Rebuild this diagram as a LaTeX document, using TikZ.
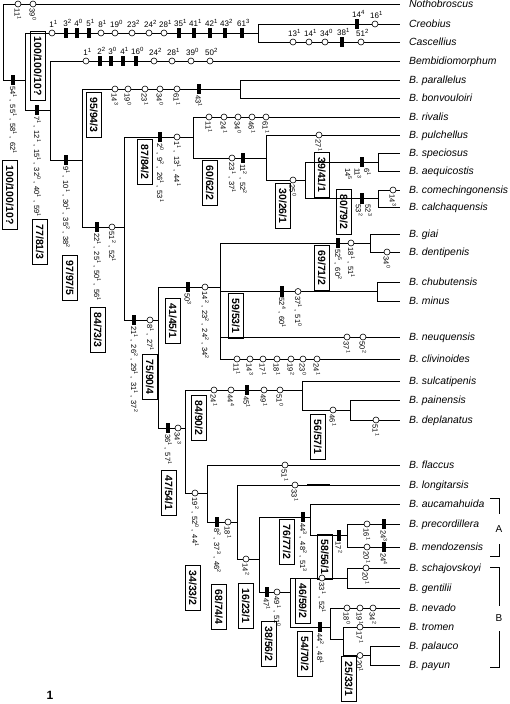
\documentclass[tikz,border=0pt]{standalone}
\usepackage{fontspec}
\setmainfont{Liberation Sans}
\newcounter{mk}
\newcommand\sx[2]{#1\textsuperscript{#2}}
\newcommand\sepc{\hspace{0.22em},\hspace{0.42em}}
\newcommand\oc[3]{\stepcounter{mk}\node[circ] (m\arabic{mk}) at (#1,#2) {};\node[lab] (l\arabic{mk}) at (#1,#2+4.5) {#3};}
\newcommand\bk[3]{\stepcounter{mk}\node[barm] (m\arabic{mk}) at (#1,#2) {};\node[lab] (l\arabic{mk}) at (#1,#2+6) {#3};}
\newcommand\ocu[3]{\stepcounter{mk}\node[circ] (m\arabic{mk}) at (#1,#2) {};\node[labup] (l\arabic{mk}) at (#1+1.5,#2-5.5) {#3};}
\newcommand\bku[3]{\stepcounter{mk}\node[barm] (m\arabic{mk}) at (#1,#2) {};\node[labup] (l\arabic{mk}) at (#1+1.5,#2-6) {#3};}
\newcommand\sbx[3]{\stepcounter{mk}\node[sbox] (b\arabic{mk}) at (#1,#2) {#3};}
\begin{document}
\begin{tikzpicture}[x=1pt,y=-1pt,
  br/.style={line width=0.75pt, draw=black},
  circ/.style={circle, draw=black, fill=white, line width=0.6pt, inner sep=0pt, minimum size=6pt},
  barm/.style={rectangle, fill=black, inner sep=0pt, minimum width=4pt, minimum height=10.5pt},
  lab/.style={rotate=-90, anchor=west, font=\fontsize{7.5}{9.5}\selectfont, inner sep=0pt, align=left},
  labup/.style={anchor=south, font=\fontsize{8}{9}\selectfont, inner sep=0pt},
  sbox/.style={draw, line width=0.6pt, rotate=-90, font=\bfseries\fontsize{10.5}{12}\selectfont, inner xsep=5pt, inner ysep=3.5pt, text height=7.6pt, text depth=0pt},
  taxon/.style={anchor=west, font=\itshape\fontsize{10.4}{12}\selectfont, inner xsep=9pt, inner ysep=0pt, text height=7.4pt, text depth=0.6pt},
]
\useasboundingbox (0,0) rectangle (510,704);
% taxa
\node[taxon] (tNotho) at (400,4) {Nothobroscus};
\node[taxon] (tCreo) at (400,24) {Creobius};
\node[taxon] (tCasc) at (400,42) {Cascellius};
\node[taxon] (tBemb) at (400,61) {Bembidiomorphum};
\node[taxon] (tpara) at (400,80) {B. parallelus};
\node[taxon] (tbonv) at (400,98) {B. bonvouloiri};
\node[taxon] (triv) at (400,117) {B. rivalis};
\node[taxon] (tpulc) at (400,135) {B. pulchellus};
\node[taxon] (tspec) at (400,153) {B. speciosus};
\node[taxon] (taequ) at (400,171) {B. aequicostis};
\node[taxon] (tcome) at (400,190) {B. comechingonensis};
\node[taxon] (tcalc) at (400,207) {B. calchaquensis};
\node[taxon] (tgiai) at (400,234) {B. giai};
\node[taxon] (tdent) at (400,252) {B. dentipenis};
\node[taxon] (tchub) at (400,282) {B. chubutensis};
\node[taxon] (tminu) at (400,301) {B. minus};
\node[taxon] (tneuq) at (400,337) {B. neuquensis};
\node[taxon] (tcliv) at (400,359) {B. clivinoides};
\node[taxon] (tsulc) at (400,381) {B. sulcatipenis};
\node[taxon] (tpain) at (400,400) {B. painensis};
\node[taxon] (tdepl) at (400,420) {B. deplanatus};
\node[taxon] (tflac) at (400,465) {B. flaccus};
\node[taxon] (tlong) at (400,485) {B. longitarsis};
\node[taxon] (tauca) at (400,504) {B. aucamahuida};
\node[taxon] (tprec) at (400,524) {B. precordillera};
\node[taxon] (tmend) at (400,547) {B. mendozensis};
\node[taxon] (tscha) at (400,568) {B. schajovskoyi};
\node[taxon] (tgent) at (400,588) {B. gentilii};
\node[taxon] (tneva) at (400,608) {B. nevado};
\node[taxon] (ttrom) at (400,627) {B. tromen};
\node[taxon] (tpala) at (400,646) {B. palauco};
\node[taxon] (tpayu) at (400,665) {B. payun};
% internal nodes
\coordinate (R) at (3,42);
\coordinate (I) at (25,80);
\coordinate (CC) at (258,33);
\coordinate (J) at (50,110);
\coordinate (K) at (82,160);
\coordinate (PB) at (240,89);
\coordinate (L) at (124,227);
\coordinate (M) at (193,137);
\coordinate (O) at (266,158);
\coordinate (P) at (305,180);
\coordinate (Q) at (378,162);
\coordinate (S) at (378,198.5);
\coordinate (N) at (158,320);
\coordinate (T) at (220,287);
\coordinate (GD) at (370,243);
\coordinate (CM) at (377,291.5);
\coordinate (U) at (185,428);
\coordinate (V) at (302,390);
\coordinate (X) at (350,410);
\coordinate (W) at (207,493);
\coordinate (Y) at (237,522);
\coordinate (Z) at (259,559);
\coordinate (AA) at (310,517);
\coordinate (AB) at (347,535.5);
\coordinate (BB) at (290,592);
\coordinate (SG) at (347,578);
\coordinate (NT) at (330,627);
\coordinate (NB) at (343,639);
\coordinate (PP) at (370,655.5);
% edges
\draw[br] (R) |- (tNotho.west); \draw[br] (R) |- (I);
\draw[br] (I) |- (CC); \draw[br] (I) |- (J);
\draw[br] (CC) |- (tCreo.west); \draw[br] (CC) |- (tCasc.west);
\draw[br] (J) |- (tBemb.west); \draw[br] (J) |- (K);
\draw[br] (K) |- (PB); \draw[br] (K) |- (L);
\draw[br] (PB) |- (tpara.west); \draw[br] (PB) |- (tbonv.west);
\draw[br] (L) |- (M); \draw[br] (L) |- (N);
\draw[br] (M) |- (triv.west); \draw[br] (M) |- (O);
\draw[br] (O) |- (tpulc.west); \draw[br] (O) |- (P);
\draw[br] (P) |- (Q); \draw[br] (P) |- (S);
\draw[br] (Q) |- (tspec.west); \draw[br] (Q) |- (taequ.west);
\draw[br] (S) |- (tcome.west); \draw[br] (S) |- (tcalc.west);
\draw[br] (N) |- (T); \draw[br] (N) |- (U);
\draw[br] (T) |- (GD); \draw[br] (T) |- (CM); \draw[br] (T) |- (tneuq.west); \draw[br] (T) |- (tcliv.west);
\draw[br] (GD) |- (tgiai.west); \draw[br] (GD) |- (tdent.west);
\draw[br] (CM) |- (tchub.west); \draw[br] (CM) |- (tminu.west);
\draw[br] (U) |- (V); \draw[br] (U) |- (W);
\draw[br] (V) |- (tsulc.west); \draw[br] (V) |- (X);
\draw[br] (X) |- (tpain.west); \draw[br] (X) |- (tdepl.west);
\draw[br] (W) |- (tflac.west); \draw[br] (W) |- (Y);
\draw[br] (Y) |- (tlong.west); \draw[br] (Y) |- (Z);
\draw[br] (Z) |- (AA); \draw[br] (Z) |- (BB);
\draw[br] (AA) |- (tauca.west); \draw[br] (AA) |- (AB);
\draw[br] (AB) |- (tprec.west); \draw[br] (AB) |- (tmend.west);
\draw[br] (BB) |- (SG); \draw[br] (BB) |- (NT);
\draw[br] (SG) |- (tscha.west); \draw[br] (SG) |- (tgent.west);
\draw[br] (NT) |- (tneva.west); \draw[br] (NT) |- (NB);
\draw[br] (NB) |- (ttrom.west); \draw[br] (NB) |- (PP);
\draw[br] (PP) |- (tpala.west); \draw[br] (PP) |- (tpayu.west);
% markers
\oc{18}{4}{\sx{11}{1}}\oc{33}{4}{\sx{39}{0}}
\bk{13}{80}{\sx{54}{1}\sepc\sx{55}{1}\sepc\sx{58}{1}\sepc\sx{62}{1}}
\sbx{10}{195}{100/100/10?}
\ocu{52}{33}{\sx{1}{1}}\bku{66}{33}{\sx{3}{2}}\bku{77}{33}{\sx{4}{0}}\bku{89}{33}{\sx{5}{1}}\ocu{101}{33}{\sx{8}{1}}\ocu{115}{33}{\sx{19}{0}}\ocu{132}{33}{\sx{23}{2}}\ocu{149}{33}{\sx{24}{2}}\ocu{164}{33}{\sx{28}{1}}\bku{179}{33}{\sx{35}{1}}\bku{194}{33}{\sx{41}{1}}\bku{210}{33}{\sx{42}{1}}\bku{225}{33}{\sx{43}{2}}\bku{242}{33}{\sx{61}{3}}
\sbx{38}{66}{100/100/10?}
\bku{357}{24}{\sx{14}{4}}\ocu{375}{24}{\sx{16}{1}}
\ocu{293}{42}{\sx{13}{1}}\ocu{309}{42}{\sx{14}{1}}\ocu{325}{42}{\sx{34}{0}}\bku{342}{42}{\sx{38}{1}}\ocu{361}{42}{\sx{51}{2}}
\ocu{86}{61}{\sx{1}{1}}\bku{100}{61}{\sx{2}{2}}\bku{111}{61}{\sx{3}{0}}\bku{123}{61}{\sx{4}{1}}\bku{136}{61}{\sx{16}{0}}\ocu{154}{61}{\sx{24}{2}}\ocu{172}{61}{\sx{28}{1}}\ocu{191}{61}{\sx{39}{0}}\ocu{210}{61}{\sx{50}{2}}
\bk{37}{110}{\sx{7}{1}\sepc\sx{12}{1}\sepc\sx{15}{1}\sepc\sx{32}{0}\sepc\sx{40}{1}\sepc\sx{59}{1}}
\sbx{40}{242}{77/81/3}
\bk{66}{160}{\sx{9}{1}\sepc\sx{10}{1}\sepc\sx{30}{1}\sepc\sx{35}{2}\sepc\sx{38}{2}}
\sbx{70}{278}{97/97/5}
\oc{115}{89}{\sx{14}{3}}\oc{128}{89}{\sx{19}{0}}\oc{145}{89}{\sx{23}{1}}\oc{160}{89}{\sx{34}{0}}\oc{177}{89}{\sx{61}{1}}\bk{199}{89}{\sx{43}{1}}
\sbx{94}{115}{95/94/3}
\bk{97}{227}{\sx{22}{1}\sepc\sx{25}{1}\sepc\sx{50}{1}\sepc\sx{56}{1}}\oc{112}{227}{\sx{51}{2}\sepc\sx{52}{1}}
\sbx{98}{330}{84/73/3}
\bk{160}{137}{\sx{2}{0}\sepc\sx{9}{2}\sepc\sx{26}{1}\sepc\sx{53}{1}}\oc{177}{137}{\sx{1}{1}\sepc\sx{13}{1}\sepc\sx{44}{1}}
\sbx{145}{162}{87/84/2}
\oc{209}{117}{\sx{11}{1}}\oc{224}{117}{\sx{24}{1}}\oc{238}{117}{\sx{34}{0}}\oc{252}{117}{\sx{46}{1}}\oc{266}{117}{\sx{61}{1}}
\oc{232}{158}{\sx{23}{1}\sepc\sx{37}{1}}\bk{243}{158}{\sx{11}{2}\sepc\sx{52}{2}}
\sbx{210}{183}{60/62/2}
\oc{319}{135}{\sx{27}{1}}
\oc{293}{180}{\sx{25}{0}}
\sbx{283}{206}{30/26/1}
\stepcounter{mk}\node[barm] (m\arabic{mk}) at (362,162) {};
\node[lab] (l\arabic{mk}) at (358,168) {\sx{6}{1}\\\sx{11}{3}\\\sx{14}{5}};
\sbx{322}{175}{39/41/1}
\stepcounter{mk}\node[barm] (m\arabic{mk}) at (362,198.5) {};
\node[lab] (l\arabic{mk}) at (364,204.5) {\sx{52}{3}\\\sx{53}{2}};
\sbx{344}{212}{80/79/2}
\oc{393}{190}{\sx{14}{3}}
\bk{134}{320}{\sx{21}{1}\sepc\sx{26}{2}\sepc\sx{29}{1}\sepc\sx{31}{1}\sepc\sx{37}{2}}\oc{150}{320}{\sx{8}{1}\sepc\sx{27}{1}}
\sbx{150}{377}{75/90/4}
\bk{188}{287}{\sx{50}{3}}\oc{205}{287}{\sx{14}{2}\sepc\sx{23}{2}\sepc\sx{24}{2}\sepc\sx{34}{2}}
\sbx{173}{321}{41/45/1}
\bk{338}{243}{\sx{52}{5}\sepc\sx{60}{2}}\oc{351}{243}{\sx{18}{1}\sepc\sx{51}{1}}
\sbx{322}{268}{69/71/2}
\oc{387}{252}{\sx{34}{0}}
\bk{282}{291.5}{\sx{52}{4}\sepc\sx{60}{1}}\oc{298}{291.5}{\sx{37}{1}\sepc\sx{51}{0}}
\sbx{236}{316}{59/53/1}
\oc{347}{337}{\sx{37}{1}}\oc{363}{337}{\sx{50}{2}}
\oc{237}{359}{\sx{11}{1}}\oc{250}{359}{\sx{14}{3}}\oc{263}{359}{\sx{17}{1}}\oc{277}{359}{\sx{18}{1}}\oc{291}{359}{\sx{19}{2}}\oc{303}{359}{\sx{23}{0}}\oc{317}{359}{\sx{24}{1}}
\bk{168}{428}{\sx{36}{1}\sepc\sx{57}{1}}\oc{178}{428}{\sx{34}{3}}
\sbx{169}{493}{47/54/1}
\oc{214}{390}{\sx{24}{1}}\oc{231}{390}{\sx{44}{4}}\bk{247}{390}{\sx{45}{1}}\oc{264}{390}{\sx{49}{1}}\oc{280}{390}{\sx{51}{0}}
\sbx{199}{418}{84/90/2}
\oc{333}{410}{\sx{46}{1}}
\sbx{318}{437}{56/57/1}
\oc{376}{420}{\sx{51}{1}}
\oc{285}{465}{\sx{51}{1}}
\oc{295}{485}{\sx{33}{1}}
\draw[line width=2pt] (307,485) coordinate (th1) -- (330,485) coordinate (th2);
\oc{195}{493}{\sx{19}{2}\sepc\sx{52}{0}\sepc\sx{44}{1}}
\sbx{193}{588}{34/33/2}
\bk{217}{522}{\sx{8}{2}\sepc\sx{37}{3}\sepc\sx{46}{2}}\oc{228}{522}{\sx{18}{1}}
\sbx{219}{607}{68/74/4}
\oc{246}{559}{\sx{14}{2}}
\sbx{246}{606}{16/23/1}
\bk{303}{517}{\sx{44}{3}\sepc\sx{48}{2}\sepc\sx{51}{3}}
\sbx{287}{542}{76/77/2}
\bk{339}{535.5}{\sx{17}{2}}
\sbx{325}{557}{58/56/1}
\oc{367}{524}{\sx{16}{1}}\bk{384}{524}{\sx{24}{3}}
\oc{367}{547}{\sx{20}{1}}\bk{384}{547}{\sx{24}{4}}
\bk{267}{592}{\sx{47}{1}}\oc{277}{592}{\sx{49}{1}\sepc\sx{51}{0}}
\sbx{269}{644}{38/56/2}
\oc{322}{578}{\sx{33}{1}\sepc\sx{52}{1}}
\sbx{303}{601}{46/59/2}
\oc{366}{568}{\sx{20}{1}}
\bk{320}{627}{\sx{44}{2}\sepc\sx{48}{1}}
\sbx{305}{654}{54/70/2}
\oc{347}{608}{\sx{18}{0}}\oc{360}{608}{\sx{19}{1}}\oc{373}{608}{\sx{34}{2}}
\oc{360}{627}{\sx{17}{1}}
\oc{360}{655.5}{\sx{20}{1}}
\sbx{349}{679}{25/33/1}
% brackets
\draw[br] (490,498) coordinate (a1) -- (499,498) -- (499,514);
\draw[br] (499,544) -- (499,556) -- (490,556) coordinate (a2);
\node[font=\fontsize{10}{12}\selectfont] (lA) at (499,529) {A};
\draw[br] (490,567) coordinate (b1) -- (499,567) -- (499,606);
\draw[br] (499,631) -- (499,667) -- (490,667) coordinate (b2);
\node[font=\fontsize{10}{12}\selectfont] (lB) at (499,618) {B};
\node[font=\bfseries\fontsize{12}{14}\selectfont] (fig) at (50,695) {1};
\end{tikzpicture}
\end{document}
